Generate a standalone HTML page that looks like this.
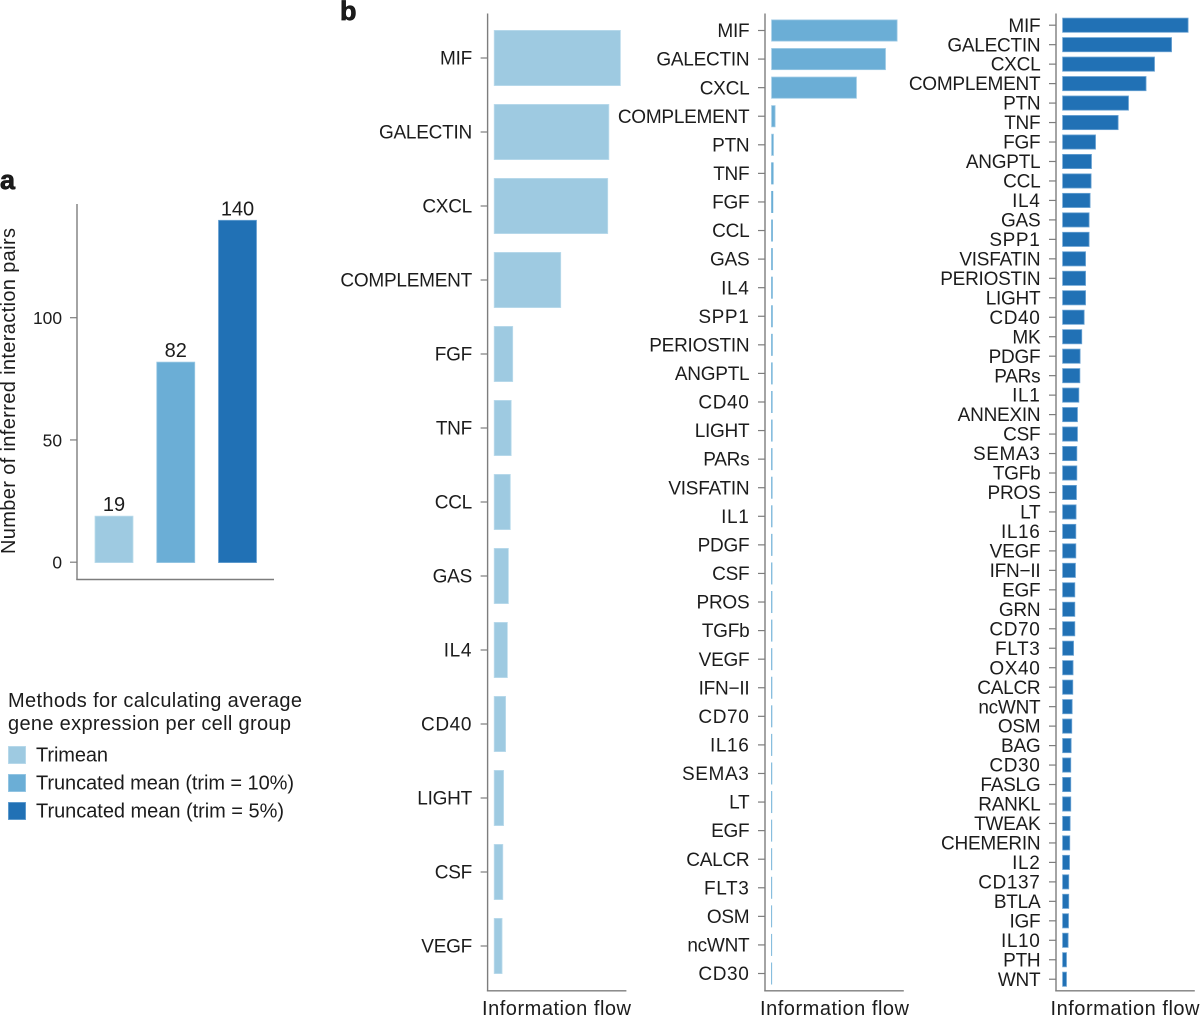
<!DOCTYPE html>
<html lang="en">
<head>
<meta charset="utf-8">
<title>Inferred interaction pairs and information flow</title>
<style>
html,body{margin:0;padding:0;background:#fff;}
svg{display:block;font-family:"Liberation Sans",sans-serif;}
text{fill:#1c1c1c;}
</style>
</head>
<body>
<svg id="figure" xmlns="http://www.w3.org/2000/svg" width="1200" height="1016" viewBox="0 0 1200 1016">
  <text x="0" y="189" font-size="27" font-weight="bold" stroke="#111" stroke-width="0.7">a</text>
  <text x="340" y="20" font-size="27" font-weight="bold" stroke="#111" stroke-width="0.7">b</text>
  <text transform="translate(15,391) rotate(-90)" text-anchor="middle" font-size="20" textLength="326" lengthAdjust="spacing">Number of inferred interaction pairs</text>
  <g>
    <text x="8" y="707" font-size="20" textLength="294" lengthAdjust="spacing">Methods for calculating average</text>
    <text x="8" y="730" font-size="20" textLength="283" lengthAdjust="spacing">gene expression per cell group</text>
    <rect x="8.4" y="746.4" width="17.2" height="17.2" fill="#9ecae1" stroke="#bcdcec" stroke-width="0.8"/>
    <text x="36" y="761.5" font-size="20" textLength="72" lengthAdjust="spacing">Trimean</text>
    <rect x="8.4" y="774.4" width="17.2" height="17.2" fill="#6baed6" stroke="#9cc9e4" stroke-width="0.8"/>
    <text x="36" y="789.5" font-size="20" textLength="258" lengthAdjust="spacing">Truncated mean (trim = 10%)</text>
    <rect x="8.4" y="802.4" width="17.2" height="17.2" fill="#2171b5" stroke="#6ba3d3" stroke-width="0.8"/>
    <text x="36" y="817.5" font-size="20" textLength="248" lengthAdjust="spacing">Truncated mean (trim = 5%)</text>
  </g>
</svg>
<script>
// Panel a data
const methodNames = ['Trimean', 'Truncated mean (trim = 10%)', 'Truncated mean (trim = 5%)'];
const pairCounts = [19, 82, 140];
const countTicks = [0, 50, 100];

// Panel b data: information flow, relative to the largest pathway (= 100)
const trimeanPathways = ['MIF','GALECTIN','CXCL','COMPLEMENT','FGF','TNF','CCL','GAS','IL4','CD40','LIGHT','CSF','VEGF'];
const trimeanFlow = [100,90.9,90,53,15.2,14,13.3,11.8,11,9.6,8,7.4,6.8];

const trim10Pathways = ['MIF','GALECTIN','CXCL','COMPLEMENT','PTN','TNF','FGF','CCL','GAS','IL4','SPP1','PERIOSTIN','ANGPTL','CD40','LIGHT','PARs','VISFATIN','IL1','PDGF','CSF','PROS','TGFb','VEGF','IFN\u2212II','CD70','IL16','SEMA3','LT','EGF','CALCR','FLT3','OSM','ncWNT','CD30'];
const trim10Flow = [100,90.8,67.8,3.4,2.1,1.85,1.6,1.3,1.25,1.2,1.2,1.15,1.1,1.05,1.05,1,1,0.95,0.95,0.9,0.9,0.9,0.85,0.85,0.85,0.8,0.8,0.8,0.75,0.75,0.75,0.7,0.7,0.7];

const trim5Pathways = ['MIF','GALECTIN','CXCL','COMPLEMENT','PTN','TNF','FGF','ANGPTL','CCL','IL4','GAS','SPP1','VISFATIN','PERIOSTIN','LIGHT','CD40','MK','PDGF','PARs','IL1','ANNEXIN','CSF','SEMA3','TGFb','PROS','LT','IL16','VEGF','IFN\u2212II','EGF','GRN','CD70','FLT3','OX40','CALCR','ncWNT','OSM','BAG','CD30','FASLG','RANKL','TWEAK','CHEMERIN','IL2','CD137','BTLA','IGF','IL10','PTH','WNT'];
const trim5Flow = [100,86.9,73.4,66.7,52.8,44.6,26.7,23.5,23.2,22.4,21.6,21.6,18.8,18.8,18.8,17.7,15.8,14.5,14.3,13.5,12.4,12.4,11.9,11.9,11.6,11.3,11.1,11.1,10.8,10.3,10.3,10.3,9.3,8.9,8.7,8.2,7.9,7.4,7.1,7.1,7.1,6.6,6.3,6.1,5.5,5.5,5.3,5,3.7,3.7];

const svg = document.getElementById('figure');
const NS = 'http://www.w3.org/2000/svg';
const AXIS = '#7d7d7d';
const FILLS = ['#9ecae1', '#6baed6', '#2171b5'];
const EDGES = ['#bcdcec', '#9cc9e4', '#6ba3d3'];

function make(tag, attrs) {
  const el = document.createElementNS(NS, tag);
  for (const k in attrs) el.setAttribute(k, attrs[k]);
  return el;
}
function slug(s) {
  return s.toLowerCase().replace(/[^a-z0-9]+/g, '-');
}

// ---------- Panel a ----------
const panelA = make('g', {});


svg.appendChild(panelA);

const countY = v => 562.6 - v * 2.445;
const methodX = i => 114 + i * 61.75;

const aYAxis = make('line', {x1: 77, x2: 77, y1: 204, y2: 580, stroke: AXIS, 'stroke-width': 1.4});


panelA.appendChild(aYAxis);

const aXAxis = make('line', {x1: 76.3, x2: 274, y1: 579.5, y2: 579.5, stroke: AXIS, 'stroke-width': 1.4});


panelA.appendChild(aXAxis);

countTicks.forEach(t => {
  const y = countY(t) - 0.4;
  const tick = make('line', {x1: 70, x2: 77, y1: y, y2: y, stroke: AXIS, 'stroke-width': 1.2});
  
  
  panelA.appendChild(tick);
  const lbl = make('text', {x: 62, y: y + 6.3, 'text-anchor': 'end', 'font-size': 17.4});
  
  
  lbl.textContent = t;
  panelA.appendChild(lbl);
});

pairCounts.forEach((v, i) => {
  const bar = make('rect', {
    x: methodX(i) - 19, y: countY(v), width: 38, height: countY(0) - countY(v),
    fill: FILLS[i], stroke: EDGES[i], 'stroke-width': 0.8
  });
  
  
  panelA.appendChild(bar);
  const lbl = make('text', {x: methodX(i), y: countY(v) - 5, 'text-anchor': 'middle', 'font-size': 20});
  
  
  lbl.textContent = v;
  panelA.appendChild(lbl);
});

// ---------- Panel b ----------
function drawFlowPanel(name, names, flow, colorIdx, axisX, titleX, firstY, rowStep, barH, unit) {
  const g = make('g', {});
  
  
  svg.appendChild(g);

  const flowX = v => v * unit;
  const rowY = i => firstY + i * rowStep;
  const barStart = axisX + 6.2;

  const yAxis = make('line', {x1: axisX, x2: axisX, y1: 13.5, y2: 991.4, stroke: AXIS, 'stroke-width': 1.4});
  
  
  g.appendChild(yAxis);

  const xAxis = make('line', {x1: axisX - 0.7, x2: axisX + 138.8, y1: 990.8, y2: 990.8, stroke: AXIS, 'stroke-width': 1.3});
  
  
  g.appendChild(xAxis);

  const title = make('text', {x: titleX, y: 1015, 'font-size': 20, textLength: 149, lengthAdjust: 'spacing'});
  
  
  title.textContent = 'Information flow';
  g.appendChild(title);

  names.forEach((n, i) => {
    const y = rowY(i);
    const tick = make('line', {x1: axisX - 7, x2: axisX, y1: y, y2: y, stroke: AXIS, 'stroke-width': 1.2});
    
    
    g.appendChild(tick);

    const spacing = /\d/.test(n) ? 0.6 : -0.25;
    const lbl = make('text', {x: axisX - 15.6, y: y + 6.6, 'text-anchor': 'end', 'font-size': 19, 'letter-spacing': spacing});
    
    
    lbl.textContent = n;
    g.appendChild(lbl);

    const w = flowX(flow[i]);
    const thin = w < 2.5;
    const bar = make('rect', {
      x: barStart + 0.4, y: y - barH / 2 + 0.4,
      width: Math.max(w - 0.8, 0.1), height: barH - 0.8,
      fill: FILLS[colorIdx], stroke: thin ? FILLS[colorIdx] : EDGES[colorIdx], 'stroke-width': 0.8
    });
    
    
    g.appendChild(bar);
  });
}

drawFlowPanel('flow-trimean', trimeanPathways, trimeanFlow, 0, 487.6, 482, 58, 74, 56, 1.27);
drawFlowPanel('flow-trim-10', trim10Pathways, trim10Flow, 1, 765, 760, 30.5, 28.576, 22, 1.263);
drawFlowPanel('flow-trim-5', trim5Pathways, trim5Flow, 2, 1056, 1050.5, 25.2, 19.47, 15, 1.263);
</script>
</body>
</html>
